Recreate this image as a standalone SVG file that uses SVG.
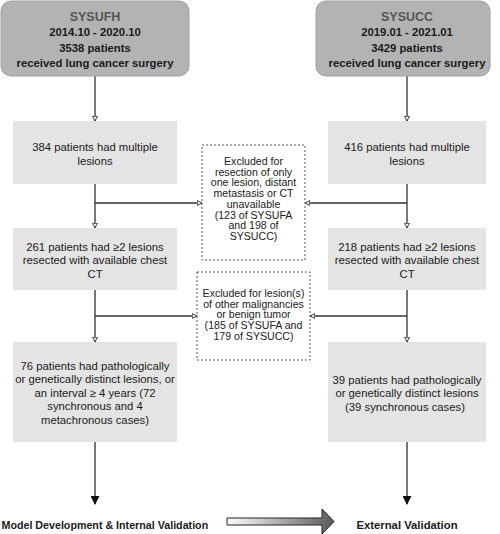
<svg xmlns="http://www.w3.org/2000/svg" width="500" height="534" viewBox="0 0 500 534">
<style>
text{font-family:"Liberation Sans",Arial,sans-serif;fill:#1a1a1a;text-anchor:middle}
.t{font-size:11.3px}
.b{font-size:11.3px;font-weight:bold}
.h{font-size:12.5px;font-weight:bold;fill:#555}
.s{font-size:10.6px}
.src{fill:#b3b3b3;stroke:#a0a0a0;stroke-width:1}
.box{fill:#e4e4e4;stroke:none}
.ex{fill:#fff;stroke:#555;stroke-width:1;stroke-dasharray:2,2}
.c{fill:none;stroke:#333;stroke-width:1.3}
</style>
<defs>
<marker id="open" viewBox="0 0 10 10" refX="9" refY="5" markerWidth="6" markerHeight="6" markerUnits="userSpaceOnUse" orient="auto">
<path d="M1,1 L9,5 L1,9 Z" fill="#fff" stroke="#333" stroke-width="1.6"/>
</marker>
<marker id="fill" viewBox="0 0 10 10" refX="9" refY="5" markerWidth="9" markerHeight="9" markerUnits="userSpaceOnUse" orient="auto">
<path d="M0,0 L10,5 L0,10 Z" fill="#111"/>
</marker>
<linearGradient id="grad" x1="0" y1="0" x2="1" y2="0">
<stop offset="0" stop-color="#ffffff"/>
<stop offset="1" stop-color="#5a5a5a"/>
</linearGradient>
</defs>

<g id="connectors">
<line class="c" x1="95" y1="76" x2="95" y2="121" marker-end="url(#open)"/>
<line class="c" x1="95" y1="184" x2="95" y2="228" marker-end="url(#open)"/>
<line class="c" x1="95" y1="290" x2="95" y2="342" marker-end="url(#open)"/>
<line class="c" x1="95" y1="442" x2="95" y2="504" marker-end="url(#fill)"/>
<line class="c" x1="407" y1="76" x2="407" y2="121" marker-end="url(#open)"/>
<line class="c" x1="407" y1="184" x2="407" y2="228" marker-end="url(#open)"/>
<line class="c" x1="407" y1="290" x2="407" y2="342" marker-end="url(#open)"/>
<line class="c" x1="407" y1="442" x2="407" y2="504" marker-end="url(#fill)"/>
<line class="c" x1="95" y1="203" x2="202" y2="203" marker-end="url(#open)"/>
<line class="c" x1="407" y1="203" x2="305" y2="203" marker-end="url(#open)"/>
<line class="c" x1="95" y1="316" x2="197" y2="316" marker-end="url(#open)"/>
<line class="c" x1="407" y1="316" x2="310" y2="316" marker-end="url(#open)"/>
</g>

<g id="sysufh">
<rect class="src" x="1" y="1" width="188" height="75" rx="10"/>
<text class="h" x="95" y="21">SYSUFH</text>
<text class="b" x="95" y="36">2014.10 - 2020.10</text>
<text class="b" x="95" y="52">3538 patients</text>
<text class="b" x="95" y="67">received lung cancer surgery</text>
</g>

<g id="sysucc">
<rect class="src" x="316" y="1" width="174" height="75" rx="10"/>
<text class="h" x="407" y="21">SYSUCC</text>
<text class="b" x="407" y="36">2019.01 - 2021.01</text>
<text class="b" x="407" y="52">3429 patients</text>
<text class="b" x="407" y="67">received lung cancer surgery</text>
</g>

<g id="left-multiple">
<rect class="box" x="13" y="121" width="164" height="63"/>
<text class="t" x="95" y="151">384 patients had multiple</text>
<text class="t" x="95" y="164.5">lesions</text>
</g>

<g id="right-multiple">
<rect class="box" x="328" y="121" width="158" height="63"/>
<text class="t" x="407" y="151">416 patients had multiple</text>
<text class="t" x="407" y="164.5">lesions</text>
</g>

<g id="exclude-1">
<rect class="ex" x="202" y="145" width="103" height="115"/>
<text class="s" x="253.5" y="165">Excluded for</text>
<text class="s" x="253.5" y="175.7">resection of only</text>
<text class="s" x="253.5" y="186.4">one lesion, distant</text>
<text class="s" x="253.5" y="197.1">metastasis or CT</text>
<text class="s" x="253.5" y="207.8">unavailable</text>
<text class="s" x="253.5" y="218.5">(123 of SYSUFA</text>
<text class="s" x="253.5" y="229.2">and 198 of</text>
<text class="s" x="253.5" y="239.9">SYSUCC)</text>
</g>

<g id="left-resected">
<rect class="box" x="13" y="228" width="164" height="62"/>
<text class="t" x="95" y="251">261 patients had ≥2 lesions</text>
<text class="t" x="95" y="264.3">resected with available chest</text>
<text class="t" x="95" y="277.6">CT</text>
</g>

<g id="right-resected">
<rect class="box" x="328" y="228" width="158" height="62"/>
<text class="t" x="407" y="251">218 patients had ≥2 lesions</text>
<text class="t" x="407" y="264.3">resected with available chest</text>
<text class="t" x="407" y="277.6">CT</text>
</g>

<g id="exclude-2">
<rect class="ex" x="197" y="272" width="113" height="88"/>
<text class="s" x="253.5" y="297">Excluded for lesion(s)</text>
<text class="s" x="253.5" y="307.7">of other malignancies</text>
<text class="s" x="253.5" y="318.4">or benign tumor</text>
<text class="s" x="253.5" y="329.1">(185 of SYSUFA and</text>
<text class="s" x="253.5" y="339.8">179 of SYSUCC)</text>
</g>

<g id="left-final">
<rect class="box" x="13" y="342" width="164" height="100"/>
<text class="t" x="95" y="370">76 patients had pathologically</text>
<text class="t" x="95" y="383.4">or genetically distinct lesions, or</text>
<text class="t" x="95" y="396.8">an interval ≥ 4 years (72</text>
<text class="t" x="95" y="410.2">synchronous and 4</text>
<text class="t" x="95" y="423.6">metachronous cases)</text>
</g>

<g id="right-final">
<rect class="box" x="328" y="342" width="158" height="100"/>
<text class="t" x="407" y="384">39 patients had pathologically</text>
<text class="t" x="407" y="397.4">or genetically distinct lesions</text>
<text class="t" x="405" y="410.8">(39 synchronous cases)</text>
</g>

<g id="internal">
<text class="b" x="1.5" y="529" style="text-anchor:start;font-size:10.7px">Model Development &amp; Internal Validation</text>
</g>

<g id="external">
<text class="b" x="407" y="529">External Validation</text>
</g>

<g id="transfer-arrow">
<polygon points="227,518 322,518 322,509 334,521.5 322,534 322,525 227,525" fill="url(#grad)" stroke="#222" stroke-width="1"/>
</g>
</svg>
